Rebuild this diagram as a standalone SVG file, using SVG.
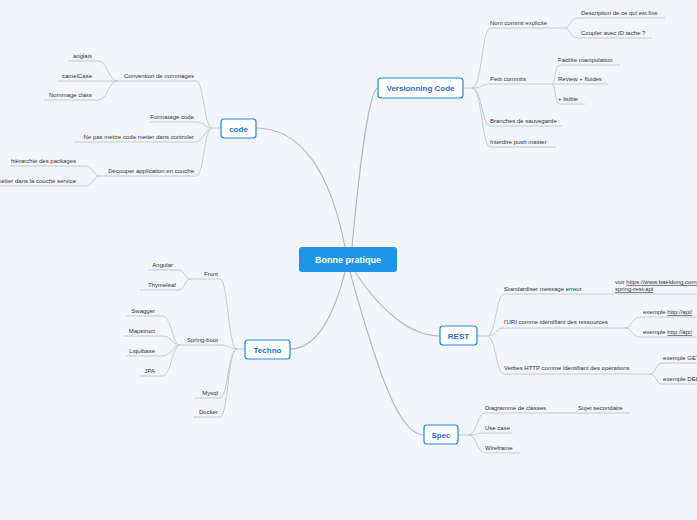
<svg xmlns="http://www.w3.org/2000/svg" width="697" height="520" viewBox="0 0 697 520">
<style>
text{font-family:"Liberation Sans",Arial,sans-serif;font-size:6px;fill:#333}
.e{text-anchor:end}
.l{fill:none;stroke:#c8c8cc;stroke-width:1}
.m{fill:none;stroke:#b8b8c0;stroke-width:1.2}
.box{fill:#fff;stroke:#1e88e5;stroke-width:1.2}
.bt{font-size:8px;font-weight:bold;fill:#1e6fd0;text-anchor:middle}
.u{text-decoration:underline}
</style>
<rect width="697" height="520" fill="#f3f5fd"/>
<g id="connectors">
<path class="m" d="M345 247 C330 170 300 128 256 128"/>
<path class="m" d="M352 247 C360 160 370 88 378 88"/>
<path class="m" d="M345 272 C330 330 310 349 290 349"/>
<path class="m" d="M355 272 C380 310 410 336 440 336"/>
<path class="m" d="M350 272 C380 380 400 435 424 435"/>
<!-- Versionning -->
<path class="l" d="M463 88 H472 C482 88 482 28 490 28 H565 M472 88 C482 88 482 84 490 84 H552 M472 88 C482 88 482 126 490 126 H562 M472 88 C482 88 482 147 490 147 H556"/>
<path class="l" d="M565 28 C570 28 570 18 578 18 H665 M565 28 C570 28 570 38 578 38 H652"/>
<path class="l" d="M552 84 C556 84 554 65 560 65 H620 M552 84 H608 M552 84 C556 84 554 104 560 104 H585"/>
<!-- code -->
<path class="l" d="M221 128 H212 C204 128 204 81 196 81 H118 M212 128 C205 128 204 122 196 122 H150 M212 128 C205 128 204 142 196 142 H74 M212 128 C204 128 204 176 196 176 H100"/>
<path class="l" d="M118 81 C108 81 108 61 98 61 H68 M118 81 H58 M118 81 C108 81 108 100 98 100 H44"/>
<path class="l" d="M100 176 C93 176 93 166 86 166 H10 M100 176 C93 176 93 186 86 186 H0"/>
<!-- Techno -->
<path class="l" d="M245 349 H237 C228 349 228 279 220 279 H190 M237 349 C229 349 229 345 220 345 H180 M237 349 C228 349 228 398 220 398 H195 M237 349 C228 349 228 417 220 417 H193"/>
<path class="l" d="M190 279 C185 279 185 270 178 270 H148 M190 279 C185 279 185 290 178 290 H140"/>
<path class="l" d="M180 345 C172 345 172 316 162 316 H125 M180 345 C172 345 172 336 162 336 H123 M180 345 C172 345 172 356 162 356 H125 M180 345 C172 345 172 376 162 376 H140"/>
<!-- REST -->
<path class="l" d="M477 336 H487 C496 336 496 294 504 294 H608 M487 336 C496 336 496 328 504 328 H625 M487 336 C496 336 496 374 504 374 H650"/>
<path class="l" d="M608 294 H697"/>
<path class="l" d="M625 328 C632 328 632 317 640 317 H697 M625 328 C632 328 632 337 640 337 H697"/>
<path class="l" d="M650 374 C656 374 656 363 662 363 H697 M650 374 C656 374 656 384 662 384 H697"/>
<!-- Spec -->
<path class="l" d="M458 435 H468 C477 435 477 413 485 413 H560 M468 435 C477 435 477 433 485 433 H512 M468 435 C477 435 477 453 485 453 H520"/>
<path class="l" d="M560 413 H630"/>
</g>
<g id="center"><rect x="299" y="247" width="98" height="25" rx="3" fill="#1e96e8"/><text x="348" y="263" style="font-size:9px;font-weight:bold;fill:#fff;text-anchor:middle">Bonne pratique</text></g>
<g id="versionning"><rect class="box" x="378" y="78" width="85" height="20" rx="3"/><text class="bt" x="420.5" y="91">Versionning Code</text>
<text x="490" y="25">Nom commit explicite</text><text x="581" y="15">Description de ce qui est fixé</text><text x="581" y="35">Coupler avec ID tache ?</text>
<text x="490" y="81">Petit commits</text><text x="558" y="62">Facilite manipulation</text><text x="558" y="81">Review + fluides</text><text x="558" y="101">+ lisible</text>
<text x="490" y="123">Branches de sauvegarde</text><text x="490" y="144">Interdire push master</text></g>
<g id="code"><rect class="box" x="221" y="119" width="35" height="19" rx="3"/><text class="bt" x="238.5" y="131.5">code</text>
<text class="e" x="194" y="78">Convention de nommages</text><text class="e" x="92" y="58">anglais</text><text class="e" x="92" y="78">camelCase</text><text class="e" x="92" y="97">Nommage class</text>
<text class="e" x="194" y="119">Formatage code</text><text class="e" x="194" y="139">Ne pas mettre code metier dans controler</text>
<text class="e" x="194" y="173">Découper application en couche</text><text class="e" x="76" y="163">hiérarchie des packages</text><text class="e" x="76" y="183">Code métier dans la couche service</text></g>
<g id="techno"><rect class="box" x="245" y="340" width="45" height="19" rx="3"/><text class="bt" x="267.5" y="352.5">Techno</text>
<text class="e" x="218" y="276">Front</text><text class="e" x="173" y="267">Angular</text><text class="e" x="176" y="287">Thymeleaf</text>
<text class="e" x="218" y="342">Spring-boot</text><text class="e" x="155" y="313">Swagger</text><text class="e" x="155" y="333">Mapstruct</text><text class="e" x="155" y="353">Liquibase</text><text class="e" x="155" y="373">JPA</text>
<text class="e" x="218" y="395">Mysql</text><text class="e" x="218" y="414">Docker</text></g>
<g id="rest"><rect class="box" x="440" y="326" width="37" height="19" rx="3"/><text class="bt" x="458.5" y="338.5">REST</text>
<text x="504" y="291">Standardiser message erreur</text><text x="615" y="284">voir <tspan class="u">https://www.baeldung.com/</tspan></text><text x="615" y="291" class="u">spring-rest-api</text>
<text x="504" y="324">l'URI comme identifiant des ressources</text><text x="643" y="314">exemple <tspan class="u">http://api/</tspan></text><text x="643" y="334">exemple <tspan class="u">http://api/</tspan></text>
<text x="504" y="370">Verbes HTTP comme identifiant des opérations</text><text x="663" y="360">exemple GET</text><text x="663" y="381">exemple DEL</text></g>
<g id="spec"><rect class="box" x="424" y="425" width="34" height="19" rx="3"/><text class="bt" x="441" y="437.5">Spec</text>
<text x="485" y="410">Diagramme de classes</text><text x="578" y="410">Sujet secondaire</text><text x="485" y="430">Use case</text><text x="485" y="450">Wireframe</text></g>
</svg>
